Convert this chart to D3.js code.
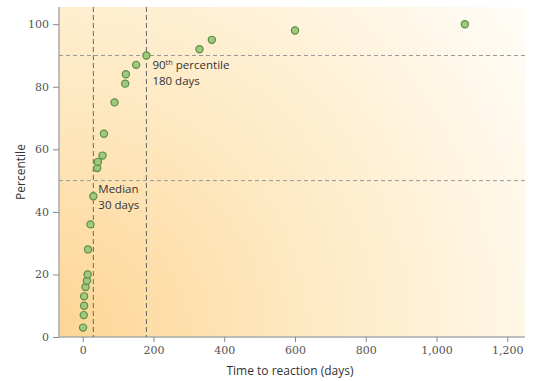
<!DOCTYPE html>
<html>
<head>
<meta charset="utf-8">
<script src="https://cdn.jsdelivr.net/npm/d3@7"></script>
<style>
  body { margin: 0; background: #fff; }
  text { font-family: "Open Sans", "Noto Sans", sans-serif; }
</style>
</head>
<body>
<div id="chart"></div>
<script>
// time to reaction (days) and cumulative percentile
const days = [1, 3, 4, 4, 8, 12, 14, 15, 22, 30, 41, 43, 56, 60, 90, 120, 122, 151, 180, 330, 365, 600, 1080];
const percentiles = [3, 7, 10, 13, 16, 18, 20, 28, 36, 45, 54, 56, 58, 65, 75, 81, 84, 87, 90, 92, 95, 98, 100];
const xTicks = [0, 200, 400, 600, 800, 1000, 1200];
const yTicks = [0, 20, 40, 60, 80, 100];
const medianDays = 30, p90Days = 180;
const medianPct = 50, p90Pct = 90;

const margin = ({ top: 7, right: 14, bottom: 44, left: 59 });
const width = 539 - margin.left - margin.right,
      height = 381 - margin.top - margin.bottom;

const svg = d3.select("#chart").append("svg")
    .attr("width", width + margin.left + margin.right)
    .attr("height", height + margin.top + margin.bottom);

const defs = svg.append("defs");
const grad = defs.append("radialGradient")
    .attr("id", "bg")
    .attr("gradientUnits", "userSpaceOnUse")
    .attr("cx", 0).attr("cy", height)
    .attr("r", Math.hypot(width, height));
grad.append("stop").attr("offset", "0%").attr("stop-color", "#fdd595");
grad.append("stop").attr("offset", "45%").attr("stop-color", "#feeac4");
grad.append("stop").attr("offset", "100%").attr("stop-color", "#fffdf8");

const g = svg.append("g")
    .attr("transform", "translate(" + margin.left + "," + margin.top + ")");

const x = d3.scaleLinear().domain([-67, 1250]).range([0, width]);
const y = d3.scaleLinear().domain([0, 105.5]).range([height, 0]);

g.append("rect")
    .attr("width", width)
    .attr("height", height)
    .attr("fill", "url(#bg)");

// axes
const xAxis = g.append("g")
    .attr("transform", `translate(0, ${height})`)
    .call(d3.axisBottom(x).tickValues(xTicks).tickSize(5).tickPadding(4)
        .tickFormat(d3.format(",")));
const yAxis = g.append("g")
    .call(d3.axisLeft(y).tickValues(yTicks).tickSize(6).tickPadding(4));

[xAxis, yAxis].forEach(a => {
    a.select(".domain").attr("stroke", "#aaa").attr("stroke-width", 1.5);
    a.selectAll(".tick line").attr("stroke", "#888");
    a.selectAll(".tick text")
        .attr("fill", "#555")
        .style("font-size", "11px")
        .style("font-family", "'DejaVu Serif', serif");
});
// axis lines span the whole plot
yAxis.select(".domain").attr("d", `M0,0V${height}`);
xAxis.select(".domain").attr("d", `M0,0H${width}`);

// reference lines
g.selectAll(".hline")
    .data([medianPct, p90Pct])
    .join("line")
    .attr("class", "hline")
    .attr("x1", 0).attr("x2", width)
    .attr("y1", d => y(d)).attr("y2", d => y(d))
    .attr("stroke", "#999")
    .attr("stroke-dasharray", "4,3");

g.selectAll(".vline")
    .data([medianDays, p90Days])
    .join("line")
    .attr("class", "vline")
    .attr("x1", d => x(d)).attr("x2", d => x(d))
    .attr("y1", 0).attr("y2", height)
    .attr("stroke", "#666")
    .attr("stroke-dasharray", "5,3");

// points
g.selectAll(".dot")
    .data(days.map((d, i) => ({ d, p: percentiles[i] })))
    .join("circle")
    .attr("class", "dot")
    .attr("cx", d => x(d.d))
    .attr("cy", d => y(d.p))
    .attr("r", 3.6)
    .attr("fill", "#9ec97f")
    .attr("stroke", "#5e8d45")
    .attr("stroke-width", 1.2);

// annotations
const note = g.append("g").attr("fill", "#333").style("font-size", "11.5px");
const x90 = x(p90Days) + 6;
const t1 = note.append("text").attr("x", x90).attr("y", y(p90Pct) + 14);
t1.append("tspan").text("90");
t1.append("tspan").text("th").attr("dy", -4).style("font-size", "7.5px");
t1.append("tspan").text(" percentile").attr("dy", 4);
note.append("text").attr("x", x90).attr("y", y(p90Pct) + 30).text("180 days");

const xMed = x(medianDays) + 5;
note.append("text").attr("x", xMed).attr("y", y(medianPct) + 12).text("Median");
note.append("text").attr("x", xMed).attr("y", y(medianPct) + 28).text("30 days");

// axis titles
svg.append("text")
    .attr("x", margin.left + width / 2 - 2)
    .attr("y", 375)
    .attr("text-anchor", "middle")
    .attr("fill", "#333")
    .style("font-size", "12px")
    .text("Time to reaction (days)");
svg.append("text")
    .attr("transform", `translate(25, ${margin.top + height / 2}) rotate(-90)`)
    .attr("text-anchor", "middle")
    .attr("fill", "#333")
    .style("font-size", "12px")
    .text("Percentile");
</script>
</body>
</html>
